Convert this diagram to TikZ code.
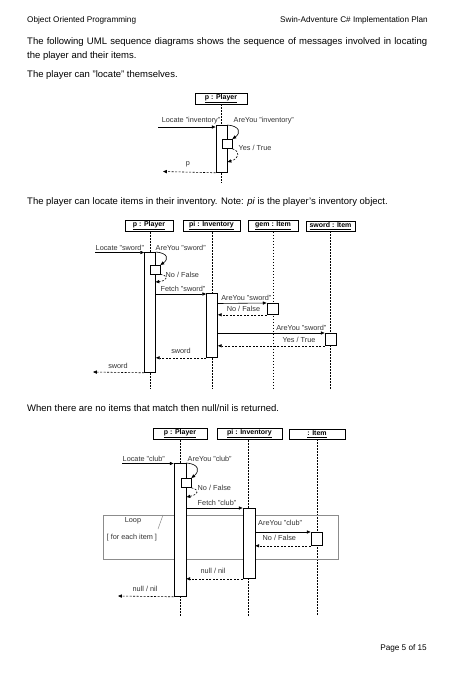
\documentclass[tikz,border=0pt]{standalone}
\usepackage{fontspec}
\setmainfont{Liberation Sans}
\usetikzlibrary{arrows.meta,shadows}
\begin{document}
\begin{tikzpicture}[x=1pt,y=-1pt,
  obj/.style={draw, line width=0.9pt, fill=white, font=\fontsize{7}{8}\selectfont\bfseries,
    inner xsep=0.6pt, inner ysep=1.2pt, minimum height=10pt, drop shadow={shadow xshift=1pt, shadow yshift=-1pt, fill=black!45}},
  bar/.style={draw, line width=0.8pt, fill=white, minimum width=11pt, inner sep=0pt, anchor=north,
    drop shadow={shadow xshift=0.8pt, shadow yshift=-0.8pt, fill=black!35}},
  life/.style={line width=0.7pt, dash pattern=on 1.6pt off 1.4pt},
  msg/.style={-{Triangle[length=3.8pt,width=3.2pt]}, line width=0.6pt},
  ret/.style={msg, dash pattern=on 2pt off 1.5pt},
  lbl/.style={font=\fontsize{7.3}{8}\selectfont, inner sep=0.5pt, text=black!80},
  body/.style={font=\fontsize{9.5}{11}\selectfont, inner sep=0pt, anchor=base west},
  small/.style={font=\fontsize{8.2}{9}\selectfont, inner sep=0pt},
  frame/.style={draw=black!45, line width=0.5pt}
]
\useasboundingbox (0,0) rectangle (459,681);
\fill[white] (0,0) rectangle (459,681);

% header
\node[small, anchor=west] (h1) at (27,20) {Object Oriented Programming};
\node[small, anchor=east] (h2) at (428,20) {Swin-Adventure C\# Implementation Plan};

\node[body] (t1) at (27,44) {\makebox[400pt][s]{The following UML sequence diagrams shows the sequence of messages involved in locating}};
\node[body] (t2) at (27,58) {the player and their items.};
\node[body] (t3) at (27,77.5) {The player can "locate" themselves.};

% ---------------- diagram 1
\node[obj, minimum width=52pt] (p1) at (221,98.5) {\underline{p : Player}};
\coordinate (p1e) at (221,183);
\draw[life] (p1) -- (p1e);
\node[bar, minimum height=47pt] (p1b) at (221.5,125) {};
\node[bar, minimum width=10pt, minimum height=9pt] (p1s) at (227,139) {};
\coordinate (l1) at (158,127);
\draw[msg] (l1) -- (l1 -| p1b.west);
\node[lbl, anchor=south east] at (221,124.5) {Locate "inventory"};
\node[lbl, anchor=south west] at (233,124.5) {AreYou "inventory"};
\draw[msg] (p1b.north east) .. controls (240,126) and (241,133) .. (p1s.north east);
\node[lbl, anchor=west] at (238,147.5) {Yes / True};
\coordinate (p1r) at (227.5,162);
\draw[ret] (p1s.south east) .. controls (242,152) and (238,159) .. (p1r);
\coordinate (r1) at (163,171.5);
\draw[ret] (p1b.south west) -- (r1);
\node[lbl, anchor=south] at (188,168) {p};

\node[body] (t4) at (27,204.5) {The player can locate items in their inventory. Note: \textit{pi} is the player's inventory object.};

% ---------------- diagram 2
\node[obj, minimum width=48pt] (p2) at (149,226) {\underline{p : Player}};
\node[obj, minimum width=57pt] (pi2) at (211.5,226) {\underline{pi : Inventory}};
\node[obj, minimum width=50pt] (g2) at (273,226) {\underline{gem : Item}};
\node[obj, minimum width=49pt] (s2) at (330.5,226) {\underline{sword : Item}};
\coordinate (p2e) at (150,389);
\coordinate (pi2e) at (212,389);
\coordinate (g2e) at (273,389);
\coordinate (s2e) at (330.5,389);
\draw[life] (p2.south -| p2e) -- (p2e);
\draw[life] (pi2.south -| pi2e) -- (pi2e);
\draw[life] (g2.south -| g2e) -- (g2e);
\draw[life] (s2.south -| s2e) -- (s2e);

\node[bar, minimum height=120pt] (p2b) at (150,252) {};
\node[bar, minimum width=10pt, minimum height=8.5pt] (p2s) at (155,265) {};
\node[bar, minimum height=64pt] (pi2b) at (212,293) {};
\node[bar, minimum height=11pt] (g2b) at (272.5,303) {};
\node[bar, minimum height=12pt] (s2b) at (330.5,333) {};

\coordinate (l2) at (95,252.5);
\draw[msg] (l2) -- (l2 -| p2b.west);
\node[lbl, anchor=south west] at (95,251) {Locate "sword"};
\node[lbl, anchor=south west] at (155,251) {AreYou "sword"};
\draw[msg] (p2b.north east) .. controls (168,253) and (169,259) .. (p2s.north east);
\node[lbl, anchor=west] at (165,275) {No / False};
\coordinate (p2r) at (155.5,282);
\draw[ret] (p2s.south east) .. controls (170,276) and (166,281) .. (p2r);

\draw[msg] (p2b.east |- pi2b.north) ++(0,1) -- (pi2b.west |- 0,294);
\node[lbl, anchor=south west] at (160,292) {Fetch "sword"};
\draw[msg] (pi2b.east |- g2b.north) ++(0,0.5) -- (g2b.north west);
\node[lbl, anchor=south east] at (272,301.5) {AreYou "sword"};
\node[lbl, anchor=south] at (243.5,312) {No / False};
\draw[ret] (g2b.south west) -- (g2b.south west -| pi2b.east);
\draw[msg] (pi2b.east |- s2b.north) -- (s2b.north west);
\node[lbl, anchor=south east] at (327,331) {AreYou "sword"};
\node[lbl, anchor=south] at (299,343) {Yes / True};
\draw[ret] (s2b.south west) -- (s2b.south west -| pi2b.east);
\draw[ret] (pi2b.south west) -- (pi2b.south west -| p2b.east);
\node[lbl, anchor=south] at (181,354.5) {sword};
\coordinate (r2) at (93,372);
\draw[ret] (p2b.south west) -- (r2);
\node[lbl, anchor=south] at (118,369.5) {sword};

\node[body] (t5) at (27,411.5) {When there are no items that match then null/nil is returned.};

% ---------------- diagram 3
\node[obj, minimum width=54pt] (p3) at (180,434) {\underline{p : Player}};
\node[obj, minimum width=65pt] (pi3) at (249.5,434) {\underline{pi : Inventory}};
\node[obj, minimum width=56pt] (i3) at (317,434) {\underline{: Item}};
\coordinate (p3e) at (180,616);
\coordinate (pi3e) at (248.5,616);
\coordinate (i3e) at (317,616);
\draw[life] (p3.south -| p3e) -- (p3e);
\draw[life] (pi3.south -| pi3e) -- (pi3e);
\draw[life] (i3.south -| i3e) -- (i3e);

% loop frame
\coordinate (fa) at (103,515);
\coordinate (fb) at (338,559);
\draw[frame] (fa) rectangle (fb);
\coordinate (ft) at (163,515);
\coordinate (fs) at (158,529);
\draw[frame] (ft) -- (fs);
\node[lbl, anchor=center] (loop) at (133,521) {Loop};
\node[lbl, anchor=west] (guard) at (106,537.5) {[ for each item ]};

\node[bar, minimum width=12pt, minimum height=133pt] (p3b) at (180,463) {};
\node[bar, minimum width=10pt, minimum height=9pt] (p3s) at (186,478) {};
\node[bar, minimum width=12pt, minimum height=70pt] (pi3b) at (249,508) {};
\node[bar, minimum height=13pt] (i3b) at (316.5,532) {};

\coordinate (l3) at (122,463.5);
\draw[msg] (l3) -- (l3 -| p3b.west);
\node[lbl, anchor=south west] at (122,462) {Locate "club"};
\node[lbl, anchor=south west] at (187,462) {AreYou "club"};
\draw[msg] (p3b.north east) .. controls (199,464) and (200,471) .. (p3s.north east);
\node[lbl, anchor=west] at (197,487.5) {No / False};
\coordinate (p3r) at (186.5,497);
\draw[ret] (p3s.south east) .. controls (201,490) and (197,495) .. (p3r);
\draw[msg] (p3b.east |- pi3b.north) -- (pi3b.north west);
\node[lbl, anchor=south] at (217,506) {Fetch "club"};
\draw[msg] (pi3b.east |- i3b.north) -- (i3b.north west);
\node[lbl, anchor=south west] at (257.5,526) {AreYou "club"};
\node[lbl, anchor=south west] at (262,541) {No / False};
\draw[ret] (i3b.south west) -- (i3b.south west -| pi3b.east);
\draw[ret] (pi3b.south west) -- (pi3b.south west -| p3b.east);
\node[lbl, anchor=south] at (213,574) {null / nil};
\coordinate (r3) at (118,596);
\draw[ret] (p3b.south west) -- (r3);
\node[lbl, anchor=south] at (145,592) {null / nil};

\node[small, anchor=east] (foot) at (427,648) {Page 5 of 15};
\end{tikzpicture}
\end{document}
